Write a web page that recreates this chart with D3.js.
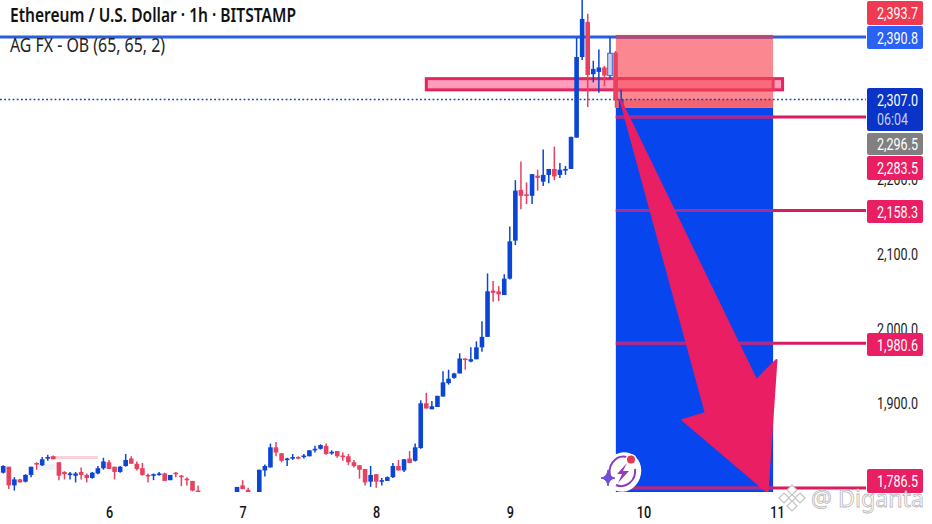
<!DOCTYPE html>
<html>
<head>
<meta charset="utf-8">
<script src="https://cdn.jsdelivr.net/npm/d3@7"></script>
<style>
html,body{margin:0;padding:0;background:#fff;overflow:hidden}
svg{display:block}
</style>
</head>
<body>
<div id="chart"></div>
<script>
const titleText = "Ethereum / U.S. Dollar · 1h · BITSTAMP";
const subtitleText = "AG FX - OB (65, 65, 2)";
const dayHours = [0, 24, 48, 72, 96, 120];
const dayLabels = ["6", "7", "8", "9", "10", "11"];
const priceTicks = [1900, 2000, 2100, 2200];
const firstHour = -19;

const opens = [1807,1815,1790,1798,1795,1804,1820,1817,1826,1829,1821,1808,1804,1803,1808,1804,1800,1806,1813,1821,1815,1808,1816,1826,1819,1813,1804,1803,1804,1806,1797,1807,1803,1799,1796,1783,
  null,null,null,null,null,null,
  1775,1790,1784,null,
  1770,1810,1814,1841,1833,1825,1826,1828,1828,1829,1838,1839,1843,1834,1836,1830,1829,1821,1817,1812,1795,1805,1796,1796,1801,1816,1810,1826,1823,1840,1900,1892,1895,1909,1927,1934,1940,1960,1956,1959,1975,1989,2051,2050,2045,2067,2118,2186,2180,2178,2205,2197,2206,2214,2206,2212,2214,2256,2364,2411,2341,2344,2350,2339,2370,2286];
const closes = [1816,1790,1798,1794,1804,1815,1818,1825,1828,1825,1803,1805,1806,1806,1804,1800,1807,1813,1822,1812,1808,1815,1824,1819,1812,1804,1803,1805,1806,1796,1804,1805,1801,1798,1783,1780,
  null,null,null,null,null,null,
  1788,1785,1778,null,
  1811,1816,1841,1834,1823,1826,1828,1826,1830,1837,1839,1844,1832,1835,1829,1828,1821,1816,1811,1794,1804,1795,1797,1801,1816,1810,1825,1820,1841,1900,1893,1896,1910,1928,1933,1940,1960,1959,1959,1975,1989,2050,2048,2046,2067,2117,2185,2178,2179,2207,2202,2206,2214,2204,2213,2214,2257,2364,2415,2340,2348,2350,2339,2369,2306,2307];
const highs = [1817,1815,1801,1799,1805,1815,1821,1828,1831,1830,1821,1809,1808,1808,1814,1806,1808,1816,1827,1824,1815,1816,1832,1829,1822,1820,1806,1806,1808,1807,1804,1808,1804,1801,1796,1790,
  null,null,null,null,null,null,
  1788,1797,1787,null,
  1811,1818,1846,1848,1833,1827,1832,1829,1832,1837,1843,1845,1846,1837,1836,1834,1832,1824,1817,1812,1816,1805,1800,1802,1820,1824,1825,1836,1846,1904,1914,1903,1910,1943,1945,1941,1967,1960,1975,1983,2010,2074,2064,2057,2073,2137,2199,2224,2196,2207,2213,2240,2214,2244,2222,2218,2257,2390,2450,2422,2359,2374,2352,2390,2372,2320];
const lows = [1806,1785,1783,1794,1794,1801,1811,1816,1823,1825,1797,1798,1798,1794,1798,1794,1799,1805,1811,1812,1798,1807,1815,1819,1810,1803,1794,1797,1803,1796,1797,1801,1789,1790,1782,1780,
  null,null,null,null,null,null,
  1775,1785,1778,null,
  1770,1802,1814,1829,1821,1816,1824,1825,1826,1829,1834,1838,1831,1831,1827,1823,1817,1814,1799,1790,1788,1787,1790,1796,1800,1810,1808,1820,1822,1839,1893,1892,1895,1909,1925,1933,1940,1945,1955,1959,1969,1989,2036,2037,2045,2066,2112,2160,2167,2167,2185,2191,2195,2199,2202,2206,2214,2256,2360,2297,2330,2316,2325,2335,2296,2273];

const hollowHour = 90;
const zoneHours = [91.05, 119.3];
const stopPrice = 2393.7;
const entryPrice = 2296.5;
const resistancePrice = 2390.8;
const currentPrice = 2307.0;
const targetPrices = [2283.5, 2158.3, 1980.6, 1786.5];
const bandHours = [57, 121];
const bandPrices = [2335, 2320];
const arrowHours = [91.9, 116.3, 119.9, 118.3, 103.05, 107.2];
const arrowPrices = [2306, 1931, 1958, 1781, 1877.6, 1887];
const badgeValues = [2393.7, 2390.8, 2307.0, 2296.5, 2283.5, 2158.3, 1980.6, 1786.5];
const countdownText = "06:04";
const watermarkText = "@ Diganta";

const W = 932, H = 524;
const BLUE = "#0A45D6", RED = "#E8405E", PINK = "#E91E63", ZONEBLUE = "#0745EE";
const x = d3.scaleLinear().domain([0, 120]).range([109, 777]);
const y = d3.scaleLinear().domain([resistancePrice, 1786.5]).range([37, 488]);
const fmt = d3.format(",.1f");

const svg = d3.select("#chart").append("svg").attr("width", W).attr("height", H).attr("viewBox", `0 0 ${W} ${H}`);
svg.append("rect").attr("width", W).attr("height", H).attr("fill", "#fff");
svg.append("defs").append("clipPath").attr("id", "pane").append("rect").attr("width", 866).attr("height", 492);
const pane = svg.append("g").attr("clip-path", "url(#pane)");

// faint leftovers on the left of the picture
pane.append("rect").attr("x", 50).attr("y", 456).attr("width", 48).attr("height", 3).attr("fill", "#FAD2D9");
pane.append("rect").attr("x", 38).attr("y", 464).attr("width", 17).attr("height", 6).attr("fill", "#F2F2F2");

// position tool zones
const zx0 = x(zoneHours[0]), zx1 = x(zoneHours[1]);
pane.append("rect").attr("x", zx0).attr("y", y(entryPrice)).attr("width", zx1 - zx0).attr("height", 492 - y(entryPrice)).attr("fill", ZONEBLUE);
pane.append("rect").attr("x", zx0).attr("y", y(stopPrice)).attr("width", zx1 - zx0).attr("height", y(entryPrice) - y(stopPrice)).attr("fill", "#FB8890");
pane.append("rect").attr("x", zx0).attr("y", y(currentPrice)).attr("width", zx1 - zx0).attr("height", y(entryPrice) - y(currentPrice)).attr("fill", "#F4646E");

// order-block band
pane.append("rect").attr("x", x(bandHours[0])).attr("y", y(bandPrices[0]))
  .attr("width", x(bandHours[1]) - x(bandHours[0])).attr("height", y(bandPrices[1]) - y(bandPrices[0]))
  .attr("fill", "#FF9DBA").attr("stroke", "#E2265E").attr("stroke-width", 3);
pane.append("rect").attr("x", zx0).attr("y", y(bandPrices[0]))
  .attr("width", zx1 - zx0).attr("height", y(bandPrices[1]) - y(bandPrices[0]))
  .attr("fill", "#F96A7C").attr("stroke", "#EC3A5C").attr("stroke-width", 3);

// resistance + current price lines
pane.append("line").attr("x1", 0).attr("x2", 866).attr("y1", y(resistancePrice)).attr("y2", y(resistancePrice)).attr("stroke", "#2A5FDC").attr("stroke-width", 3);
pane.append("line").attr("x1", zx0).attr("x2", zx1).attr("y1", y(resistancePrice)).attr("y2", y(resistancePrice)).attr("stroke", "#B24A72").attr("stroke-width", 3.5);
pane.append("line").attr("x1", 0).attr("x2", 866).attr("y1", y(currentPrice)).attr("y2", y(currentPrice)).attr("stroke", "#1E3FB0").attr("stroke-width", 1.6).attr("stroke-dasharray", "1.8 2.4");

// candles
const candles = opens.map((o, i) => ({hour: firstHour + i, o, c: closes[i], h: highs[i], l: lows[i]})).filter(d => d.o !== null);
const cg = pane.append("g").selectAll("g").data(candles).join("g");
cg.append("line")
  .attr("x1", d => x(d.hour)).attr("x2", d => x(d.hour))
  .attr("y1", d => y(d.h)).attr("y2", d => y(d.l))
  .attr("stroke", d => d.c >= d.o ? BLUE : RED).attr("stroke-width", 1.5);
cg.append("rect")
  .attr("x", d => x(d.hour) - 2.3).attr("width", 4.6)
  .attr("y", d => y(Math.max(d.o, d.c)))
  .attr("height", d => Math.max(1.6, Math.abs(y(d.o) - y(d.c))))
  .attr("fill", d => d.hour === hollowHour ? "#C9D3EE" : (d.c >= d.o ? BLUE : RED))
  .attr("stroke", d => d.hour === hollowHour ? "#3A5FC8" : "none")
  .attr("stroke-width", 1);

// target lines
targetPrices.forEach(p => {
  pane.append("line").attr("x1", zx0).attr("x2", 866).attr("y1", y(p)).attr("y2", y(p)).attr("stroke", "#D81B60").attr("stroke-width", 3);
  pane.append("line").attr("x1", zx0).attr("x2", zx1).attr("y1", y(p)).attr("y2", y(p)).attr("stroke", "#A62E92").attr("stroke-width", 3);
});

// big arrow
const arrowLine = d3.line().x(d => x(d[0])).y(d => y(d[1]));
pane.append("path").attr("d", arrowLine(arrowHours.map((h, i) => [h, arrowPrices[i]])) + "Z")
  .attr("fill", PINK).attr("stroke", PINK).attr("stroke-width", 2).attr("stroke-linejoin", "round");

// lightning badge
const icon = svg.append("g");
icon.append("ellipse").attr("cx", 623).attr("cy", 472).attr("rx", 18).attr("ry", 20).attr("fill", "#fff").attr("transform", "rotate(20 623 472)");
icon.append("path").attr("d", "M635 469A14 15 0 0 1 616 485").attr("fill", "none").attr("stroke", "#8E3BB8").attr("stroke-width", 2);
icon.append("path").attr("d", "M611 478A14 15 0 0 1 627 457").attr("fill", "none").attr("stroke", "#8E3BB8").attr("stroke-width", 2);
icon.append("path").attr("d", "M627 463L617 474H622L618 483L629 471H623Z").attr("fill", "#9340B8");
icon.append("circle").attr("cx", 631).attr("cy", 459.5).attr("r", 5.5).attr("fill", "#fff");
icon.append("circle").attr("cx", 631).attr("cy", 459.5).attr("r", 4).attr("fill", "#E8384F");
icon.append("path").attr("d", "M608 470Q609 477 615 478Q609 479 608 486Q607 479 601 478Q607 477 608 470Z").attr("fill", "#6F4FD8").attr("stroke", "#6F4FD8");

// price axis
const priceAxis = svg.append("g").attr("transform", "translate(877,0)")
  .call(d3.axisRight(y).tickValues(priceTicks).tickFormat(fmt).tickSize(0).tickPadding(0));
priceAxis.select(".domain").remove();
priceAxis.selectAll("text").attr("font-family", "Roboto").attr("font-size", 17).attr("fill", "#1c1c1c")
  .attr("textLength", 41).attr("lengthAdjust", "spacingAndGlyphs");

// price badges
const badgeFills = ["#F03A52", "#2962F5", "#0A34C8", "#808080", PINK, PINK, PINK, PINK];
const badgeTops = [1, 26, 88, 133, 156, 200, 333, 469];
const badgeHeights = [24, 23, 43, 22, 24, 23, 23, 24];
const badgeG = svg.append("g");
badgeValues.forEach((v, i) => {
  badgeG.append("rect").attr("x", 867).attr("y", badgeTops[i]).attr("width", 56).attr("height", badgeHeights[i]).attr("rx", 2).attr("fill", badgeFills[i]);
  badgeG.append("text").attr("x", 877).attr("y", badgeTops[i] + (i === 2 ? 12 : badgeHeights[i] / 2)).attr("dy", "0.36em")
    .attr("font-family", "Roboto").attr("font-size", 17).attr("fill", "#fff")
    .attr("textLength", 41).attr("lengthAdjust", "spacingAndGlyphs").text(fmt(v));
});
badgeG.append("text").attr("x", 877).attr("y", 119).attr("dy", "0.36em").attr("font-family", "Roboto").attr("font-size", 17)
  .attr("fill", "#C4D0F2").attr("textLength", 31).attr("lengthAdjust", "spacingAndGlyphs").text(countdownText);

// time axis
const timeAxis = svg.append("g").attr("transform", "translate(0,506)")
  .call(d3.axisBottom(x).tickValues(dayHours).tickFormat((d, i) => dayLabels[i]).tickSize(0).tickPadding(0));
timeAxis.select(".domain").remove();
timeAxis.selectAll("text").attr("font-family", "Roboto").attr("font-size", 17).attr("font-weight", 500).attr("fill", "#111")
  .attr("textLength", (d, i) => dayLabels[i].length * 7.2).attr("lengthAdjust", "spacingAndGlyphs");

// titles
svg.append("text").attr("x", 10).attr("y", 22).attr("font-family", "Noto Sans").attr("font-weight", 600).attr("font-size", 20).attr("fill", "#111")
  .attr("textLength", 286).attr("lengthAdjust", "spacingAndGlyphs").text(titleText);
svg.append("text").attr("x", 10).attr("y", 52).attr("font-family", "Noto Sans").attr("font-size", 20).attr("fill", "#222")
  .attr("textLength", 155).attr("lengthAdjust", "spacingAndGlyphs").text(subtitleText);

// watermark
const wm = svg.append("g");
[[792, 490, 5], [784, 498, 5], [800, 498, 5], [792, 506, 5], [792, 498, 3.5]].forEach(([cx, cy, r]) => {
  wm.append("path").attr("d", `M${cx} ${cy - r}L${cx + r} ${cy}L${cx} ${cy + r}L${cx - r} ${cy}Z`)
    .attr("fill", "#fff").attr("stroke", "#C4C4C4").attr("stroke-width", 1.2);
});
wm.append("text").attr("x", 811).attr("y", 507).attr("font-family", "Noto Sans").attr("font-size", 23)
  .attr("fill", "#fff").attr("stroke", "#B8B8B8").attr("stroke-width", 0.8)
  .attr("textLength", 113).attr("lengthAdjust", "spacingAndGlyphs").text(watermarkText);
</script>
</body>
</html>
